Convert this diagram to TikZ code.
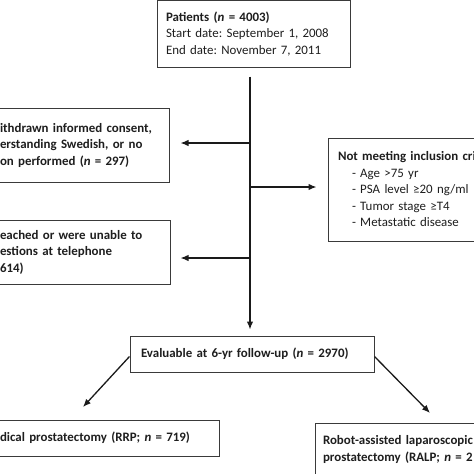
\documentclass[tikz,border=0pt]{standalone}
\usepackage{fontspec}
\setmainfont{Carlito}
\usetikzlibrary{arrows.meta,calc}
\definecolor{boxc}{HTML}{3A3A3A}
\definecolor{txtc}{HTML}{1E1E1E}
\definecolor{linec}{HTML}{1A1A1A}
\begin{document}
\frenchspacing
\begin{tikzpicture}[x=1pt,y=-1pt,
  box/.style={draw=boxc, line width=1pt, rectangle, inner ysep=0pt, align=left,
    font=\fontsize{12.9}{16.5}\selectfont, text=txtc},
  ln/.style={draw=linec, line width=1.3pt},
  arr/.style={ln, -{Latex[length=8pt,width=6.5pt]}}]
\useasboundingbox (0,0) rectangle (474,474);
\fill[white] (0,0) rectangle (474,474);

\node[box, minimum width=193pt, minimum height=66.5pt, inner xsep=9pt, text width=175pt] (top) at (253.5,33.75)
  {\textbf{Patients (\textit{n} = 4003)}\\Start date: September 1, 2008\\End date: November 7, 2011};

\node[box, minimum width=179pt, minimum height=74pt, inner xsep=10pt, text width=159pt] (b1) at (79.5,145)
  {\textbf{ithdrawn informed consent,}\\\textbf{erstanding Swedish, or no}\\\textbf{on performed (\textit{n} = 297)}};

\node[box, minimum width=190pt, minimum height=103pt, inner xsep=10pt, text width=170pt] (r) at (423,189.5)
  {\textbf{Not meeting inclusion cri}\\\hspace*{14pt}- Age >75 yr\\\hspace*{14pt}- PSA level ≥20 ng/ml\\\hspace*{14pt}- Tumor stage ≥T4\\\hspace*{14pt}- Metastatic disease};

\node[box, minimum width=180pt, minimum height=64pt, inner xsep=10pt, text width=160pt] (b2) at (80,252)
  {\textbf{eached or were unable to}\\\textbf{estions at telephone}\\\textbf{614)}};

\node[box, minimum width=244pt, minimum height=36pt, inner xsep=11pt, text width=222pt] (ev) at (252,354)
  {\textbf{Evaluable at 6-yr follow-up (\textit{n} = 2970)}};

\node[box, minimum width=229pt, minimum height=36pt, inner xsep=10pt, text width=209pt] (bl) at (104.5,438)
  {\textbf{dical prostatectomy (RRP; \textit{n} = 719)}};

\node[box, minimum width=190pt, minimum height=53pt, inner xsep=8pt, text width=174pt] (br) at (410,449.5)
  {\textbf{Robot-assisted laparoscopic}\\\textbf{prostatectomy (RALP; \textit{n} = 2}};

\coordinate (j1) at (250,143);
\coordinate (j2) at (250,187);
\coordinate (j3) at (250,258);
\coordinate (d1) at (83,407);
\coordinate (d2) at (430,413);

\draw[arr, shorten <=9pt, shorten >=6pt] (top.south -| j1) -- (ev.north -| j1);
\draw[arr, shorten >=11pt] (j1) -- (b1.east |- j1);
\draw[arr, shorten >=11pt] (j2) -- (r.west |- j2);
\draw[arr, shorten >=10pt] (j3) -- (b2.east |- j3);
\draw[arr] ($(ev.west)+(0,2.5)$) -- (d1);
\draw[arr] ($(ev.east)+(0,2.5)$) -- (d2);
\end{tikzpicture}
\end{document}
